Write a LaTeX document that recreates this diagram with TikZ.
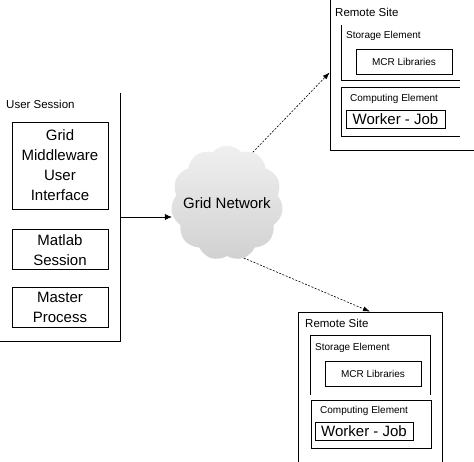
\documentclass[tikz,border=0pt]{standalone}
\usepackage{fontspec}
\setmainfont{Liberation Sans}
\usetikzlibrary{positioning,arrows.meta,shapes.symbols}

\begin{document}
\begin{tikzpicture}[x=1pt,y=-1pt]
		\tikzstyle{box} = [rectangle, draw, align = center, inner sep = 0pt, line width = 0.8pt];
		\tikzstyle{frame} = [rectangle, inner sep = 0pt];
		\tikzstyle{title} = [inner sep = 0pt, anchor = west, font = \fontsize{11.5}{13}\selectfont];
		\tikzstyle{small} = [font = \fontsize{10}{12}\selectfont];
		\tikzstyle{big} = [font = \fontsize{15}{20}\selectfont];
		\tikzstyle{mainpath} = [draw, line width = 0.8pt, -{Latex[length = 7pt, width = 6pt]}];
		\tikzstyle{sitepath} = [draw, line width = 0.6pt, dash pattern = on 2pt off 1.5pt, -{Latex[length = 7pt, width = 5pt]}];
		\useasboundingbox (0,0) rectangle (474,461);
		\clip (0,0) rectangle (474,461);
		% user session
		\node (user) [frame, minimum width = 125pt, minimum height = 248pt] at (57.5,217) {};
		\draw [line width = 0.8pt] (user.north east) -- (user.south east) -- (user.south west);
		\node (usertitle) [title] at (6,104) {User Session};
		\node (gui) [box, big, minimum width = 96pt, minimum height = 87pt] at (60,165.5) {Grid\\Middleware\\User\\Interface};
		\node (matlab) [box, big, minimum width = 96pt, minimum height = 40pt, below = 20pt of gui] {Matlab\\Session};
		\node (master) [box, big, minimum width = 96pt, minimum height = 40pt, below = 17pt of matlab] {Master\\Process};
		% grid network
		\node (net) [cloud, cloud puffs = 11, cloud puff arc = 100, aspect = 0.97, inner sep = 0pt, minimum width = 112pt, minimum height = 115pt,
			top color = gray!12, bottom color = gray!36, label = {[big]center:Grid Network}] at (227,203) {};
		% upper remote site
		\node (site1) [frame, draw, line width = 0.8pt, minimum width = 150pt, minimum height = 155pt] at (405,72.5) {};
		\node (site1title) [title] at (335,12) {Remote Site};
		\node (store1) [frame, minimum width = 118pt, minimum height = 55pt] at (401,52.5) {};
		\draw [line width = 0.8pt] (store1.north west) -- (store1.south west) -- (store1.south east);
		\node (store1title) [title, small] at (346,36) {Storage Element};
		\node (mcr1) [box, small, minimum width = 96pt, minimum height = 25pt] at (404,61.5) {MCR Libraries};
		\node (comp1) [frame, minimum width = 118pt, minimum height = 48pt] at (401,112) {};
		\draw [line width = 0.8pt] (comp1.north east) -- (comp1.north west) -- (comp1.south west) -- (comp1.south east);
		\node (comp1title) [title, small] at (350,99) {Computing Element};
		\node (job1) [box, big, minimum width = 99pt, minimum height = 18pt] at (395.5,119) {Worker - Job};
		% lower remote site
		\node (site2) [frame, draw, line width = 0.8pt, minimum width = 144pt, minimum height = 158pt] at (370,391) {};
		\node (site2title) [title] at (305,323) {Remote Site};
		\node (store2) [frame, minimum width = 119pt, minimum height = 59pt] at (370.5,365.5) {};
		\draw [line width = 0.8pt] (store2.south west) -- (store2.north west) -- (store2.north east) -- (store2.south east);
		\node (store2title) [title, small] at (315,348) {Storage Element};
		\node (mcr2) [box, small, minimum width = 96pt, minimum height = 25pt] at (373,373.5) {MCR Libraries};
		\node (comp2) [box, minimum width = 120pt, minimum height = 48pt] at (371,424) {};
		\node (comp2title) [title, small] at (320,411) {Computing Element};
		\node (job2) [box, big, minimum width = 98pt, minimum height = 18pt] at (364,431) {Worker - Job};
		% links
		\path [mainpath] (user.east) -- (user.east -| net.west);
		\path [sitepath] (net.63) -- (site1.west);
		\path [sitepath] (net.-73) -- (site2.north);
	\end{tikzpicture}
\end{document}
